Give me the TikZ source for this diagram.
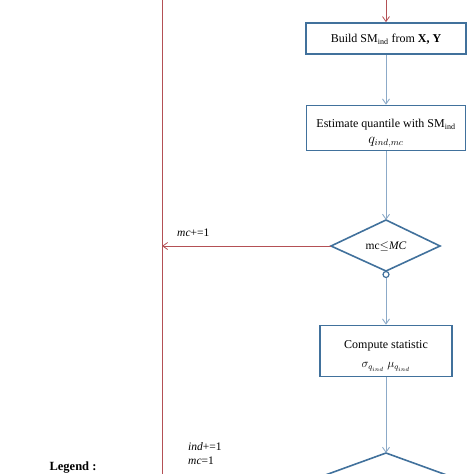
\documentclass[tikz,border=0pt]{standalone}
\usepackage{fontspec}
\setmainfont{Liberation Serif}
\usetikzlibrary{arrows.meta}
\definecolor{boxblue}{RGB}{65,113,156}
\definecolor{arrblue}{RGB}{140,170,200}
\definecolor{redline}{RGB}{180,80,85}
\tikzset{
  procbox/.style={draw=boxblue, line width=1.6pt, fill=white, inner sep=0pt},
  boxtext/.style={align=center, inner sep=0pt, font=\fontsize{12}{15}\selectfont},
  flowarrow/.style={draw=arrblue, line width=0.9pt, -{Straight Barb[length=5pt,width=7pt]}},
  redarrow/.style={draw=redline, line width=0.8pt, -{Straight Barb[length=5pt,width=7pt]}},
  lbl/.style={font=\fontsize{11.5}{13}\selectfont, inner sep=0pt, align=left},
}
\begin{document}
\begin{tikzpicture}[x=1pt,y=-1pt]
\useasboundingbox (0,0) rectangle (474,474);
\clip (0,0) rectangle (474,474);
% red loop line
\coordinate (rtop) at (162,0);
\coordinate (rbot) at (162,474);
\draw[redline, line width=0.8pt] (rtop) -- (rbot);
% box 1
\node[procbox, minimum width=160pt, minimum height=31pt] (b1) at (386,38.5) {};
\node[boxtext] (t1) at (386,39.5) {Build SM\textsubscript{ind} from \textbf{X, Y}};
% box 2
\node[procbox, minimum width=159pt, minimum height=45pt] (b2) at (386,128) {};
\node[boxtext] (t2) at (386,133) {Estimate quantile with SM\textsubscript{ind}\\[1pt] {\fontsize{13.5}{15}\selectfont$q_{ind,mc}$}};
% diamond 1
\coordinate (d1t) at (386,220);
\coordinate (d1l) at (331,246);
\coordinate (d1r) at (440,246);
\coordinate (d1b) at (386,271);
\draw[boxblue, line width=1.6pt, fill=white] (d1t) -- (d1r) -- (d1b) -- (d1l) -- cycle;
\node[font=\fontsize{11.5}{14}\selectfont, inner sep=0pt] (d1) at (386,246) {mc$\leq$\textit{MC}};
\node[circle, draw=boxblue, line width=1.2pt, fill=white, minimum size=6pt, inner sep=0pt] (c1) at (386,274.5) {};
% box 3
\node[procbox, minimum width=132pt, minimum height=51pt] (b3) at (386,351) {};
\node[boxtext] (t3) at (386,356) {Compute statistic\\[4pt] {\large$\sigma_{q_{ind}}\ \mu_{q_{ind}}$}};
% diamond 2 (cut by the frame)
\coordinate (d2t) at (386,453);
\coordinate (d2l) at (262,498);
\coordinate (d2r) at (510,498);
\coordinate (d2b) at (386,543);
\draw[boxblue, line width=1.6pt, fill=white] (d2t) -- (d2r) -- (d2b) -- (d2l) -- cycle;
% connectors
\coordinate (topin) at (386,0);
\draw[redarrow] (topin) -- (b1.north);
\draw[flowarrow] (b1.south) -- (b2.north);
\draw[flowarrow] (b2.south) -- (d1t);
\draw[flowarrow] (c1.south) -- (b3.north);
\draw[flowarrow] (b3.south) -- (d2t);
\coordinate (rmid) at (162,246);
\draw[redarrow] (d1l) -- (rmid);
% labels
\node[lbl, anchor=west] (l1) at (177,233) {\textit{mc}+=1};
\node[lbl, anchor=west] (l2) at (188,447) {\textit{ind}+=1};
\node[lbl, anchor=west] (l3) at (188,461) {\textit{mc}=1};
\node[font=\bfseries\fontsize{12.5}{14}\selectfont, inner sep=0pt] (leg) at (73,468) {Legend :};
\end{tikzpicture}
\end{document}
